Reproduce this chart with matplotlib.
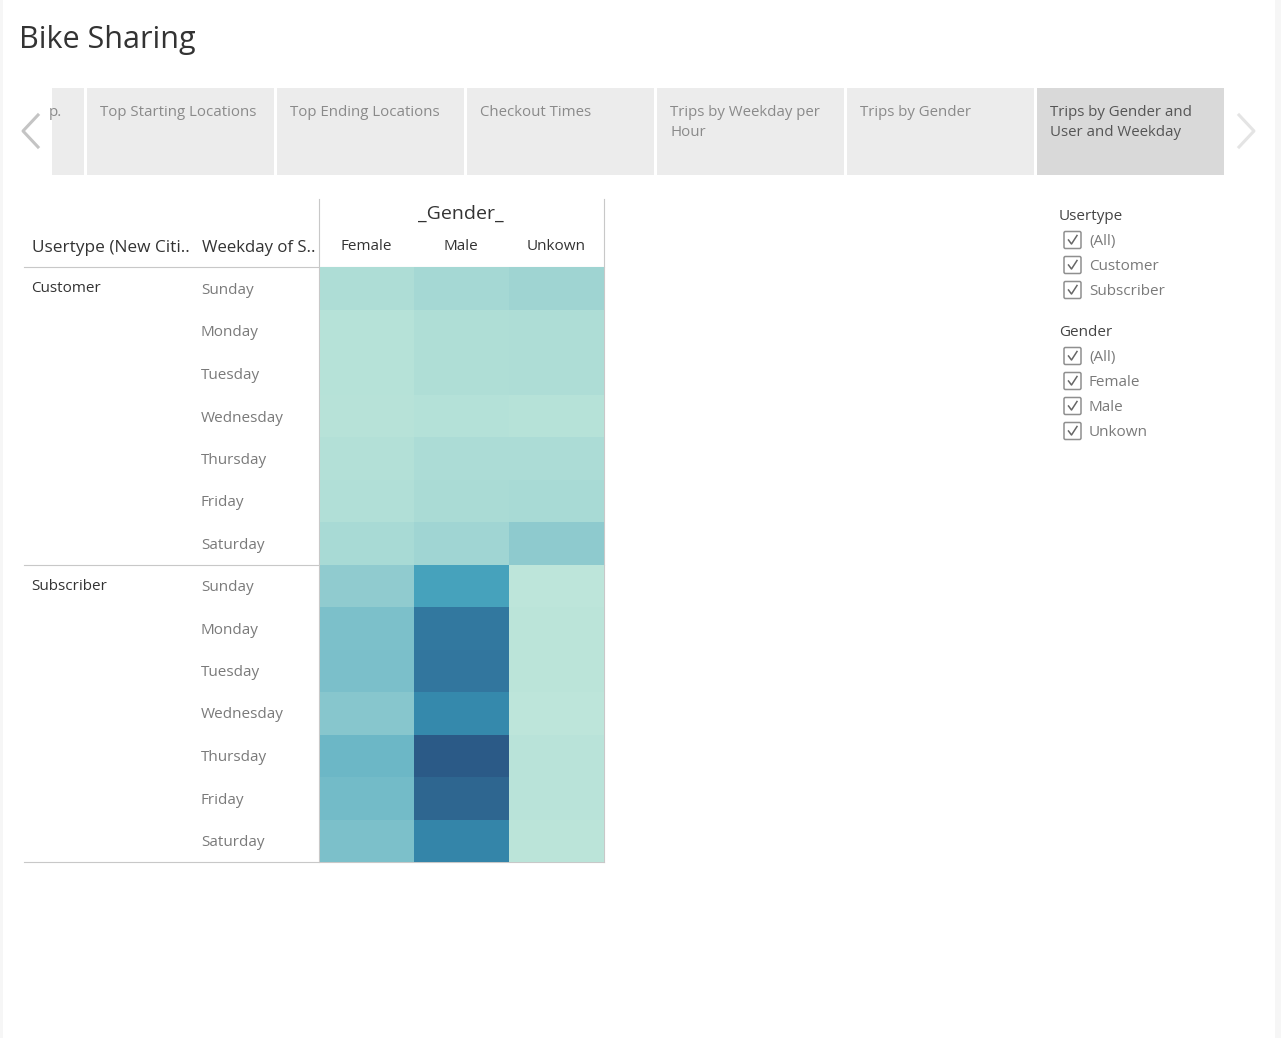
import matplotlib
matplotlib.use("Agg")
import matplotlib.pyplot as plt
from matplotlib.colors import LinearSegmentedColormap
from matplotlib.patches import FancyBboxPatch, Rectangle
import numpy as np

W, H = 1281, 1038

# Data
usertypes = ["Customer", "Subscriber"]
weekdays = ["Sunday", "Monday", "Tuesday", "Wednesday", "Thursday", "Friday", "Saturday"]
genders = ["Female", "Male", "Unkown"]
customer_trips = [
    [10, 15, 19],
    [5, 9, 10],
    [5, 9, 10],
    [4, 6, 5],
    [7, 11, 11],
    [8, 12, 13],
    [13, 18, 29],
]
subscriber_trips = [
    [28, 60, 1],
    [40, 80, 2],
    [41, 81, 2],
    [33, 70, 1],
    [50, 100, 3],
    [46, 92, 3],
    [40, 72, 2],
]
tab_labels = ["Top Starting Locations", "Top Ending Locations", "Checkout Times",
              "Trips by Weekday per\nHour", "Trips by Gender",
              "Trips by Gender and\nUser and Weekday"]
usertype_filter = ["(All)", "Customer", "Subscriber"]
gender_filter = ["(All)", "Female", "Male", "Unkown"]

plt.rcParams["font.family"] = ["Open Sans", "DejaVu Sans"]

cmap = LinearSegmentedColormap.from_list("teal_blue", [
    (0.0, "#BEE6DA"), (0.15, "#A5D8D4"), (0.3, "#8CC9CE"), (0.4, "#7CC0CA"),
    (0.5, "#6DB7C6"), (0.6, "#46A2BC"), (0.7, "#3589AC"), (0.8, "#32789F"),
    (1.0, "#2B5A87"),
])

fig = plt.figure(figsize=(W / 100, H / 100), dpi=100)

# Page layer in pixel coordinates
page = fig.add_axes([0, 0, 1, 1])
page.set_xlim(0, W)
page.set_ylim(H, 0)
page.axis("off")

page.add_patch(Rectangle((0, 0), 3, H, color="#F6F6F6", lw=0))
page.add_patch(Rectangle((1275, 0), 6, H, color="#F6F6F6", lw=0))

page.text(19, 40, "Bike Sharing", fontsize=22, color="#333333", va="center")

# Tab strip
grey_text = "#8A8A8A"
page.add_patch(Rectangle((52, 88), 32, 87, color="#ECECEC", lw=0))
page.text(49, 113, "p.", fontsize=11, color=grey_text, va="center",
          clip_on=True, clip_path=Rectangle((52, 88), 32, 87, transform=page.transData))
for i, label in enumerate(tab_labels):
    x0 = 87 + i * 190
    active = i == len(tab_labels) - 1
    page.add_patch(Rectangle((x0, 88), 187, 87, color="#D9D9D9" if active else "#ECECEC", lw=0))
    for j, line in enumerate(label.split("\n")):
        page.text(x0 + 13, 112.5 + j * 20, line, fontsize=10.8,
                  color="#555555" if active else grey_text, va="center")

page.plot([38, 23, 38], [115, 131, 147], color="#C4C4C4", lw=2.2)
page.plot([1239, 1254, 1239], [115, 131, 147], color="#E4E4E4", lw=2.2)

# Heatmap
hm = fig.add_axes([319.5 / W, 1 - 862 / H, 284.5 / W, 595 / H])
values = np.array(customer_trips + subscriber_trips)
hm.pcolormesh(values, cmap=cmap, vmin=0, vmax=100)
hm.set_ylim(len(values), 0)
hm.set_xticks([])
hm.set_yticks([])
for side in hm.spines.values():
    side.set_visible(False)

# Table header and row labels
rule = "#C8C8C8"
dark = "#333333"
page.plot([24, 604], [266.5, 266.5], color=rule, lw=0.8)
page.plot([24, 604], [564.5, 564.5], color=rule, lw=0.8)
page.plot([24, 604], [861.5, 861.5], color=rule, lw=0.8)
page.plot([319, 319], [199, 862], color=rule, lw=0.8)
page.plot([604, 604], [199, 862], color=rule, lw=0.8)

page.text(461, 214, "_Gender_", fontsize=14, color=dark, ha="center", va="center")
page.text(32, 247.5, "Usertype (New Citi..", fontsize=12.4, color=dark, va="center")
page.text(202, 247.5, "Weekday of S..", fontsize=12.1, color=dark, va="center")
for i, g in enumerate(genders):
    page.text(366 + i * 95, 247, g, fontsize=11, color=dark, ha="center", va="center")

for i, u in enumerate(usertypes):
    page.text(31, 288.5 + i * 298, u, fontsize=11, color=dark, va="center")
    for j, d in enumerate(weekdays):
        page.text(201, 290.5 + i * 297 + j * 42.5, d, fontsize=11, color="#7A7A7A", va="center")


# Filters
def draw_filter(title, items, y0):
    page.text(1059, y0 + 1.5, title, fontsize=11, color="#444444", va="center")
    for k, item in enumerate(items):
        yc = y0 + 24.5 + k * 25
        page.add_patch(FancyBboxPatch((1064, yc - 8.5), 17, 17, boxstyle="round,pad=0,rounding_size=1.5",
                                      fc="white", ec="#8F8F8F", lw=1.1))
        page.plot([1068.5, 1071.5, 1077], [yc, yc + 4, yc - 4.5], color="#666666", lw=1.1)
        page.text(1089, yc + 1.5, item, fontsize=11, color="#7A7A7A", va="center")


draw_filter("Usertype", usertype_filter, 215.5)
draw_filter("Gender", gender_filter, 331.5)

fig.savefig("out.png", dpi=100)
